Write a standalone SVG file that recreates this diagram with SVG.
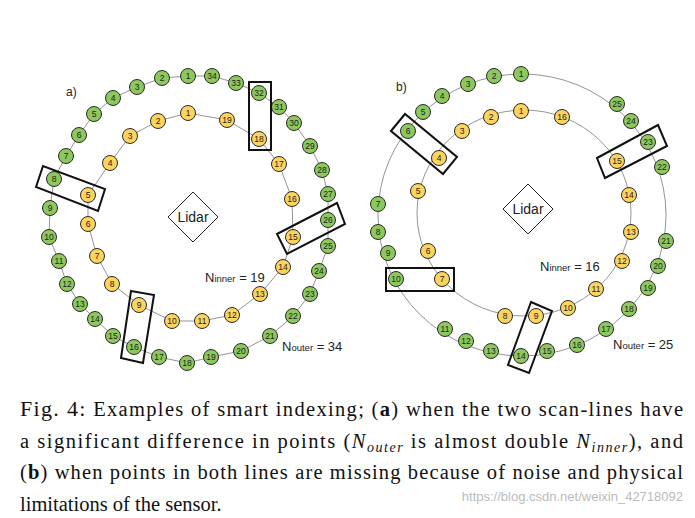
<svg xmlns="http://www.w3.org/2000/svg" width="695" height="518" viewBox="0 0 695 518">
<style>
.g{fill:#8cc85c;stroke:#2a2a2a;stroke-width:1}
.y{fill:#fcd35c;stroke:#2a2a2a;stroke-width:1}
.n{font-family:"Liberation Sans",Arial,sans-serif;font-size:8.5px;text-anchor:middle;dominant-baseline:central;fill:#222}
.ln{fill:none;stroke:#888;stroke-width:0.9}
.bx{fill:none;stroke:#111;stroke-width:2}
.lb{font-family:"Liberation Sans",Arial,sans-serif;fill:#222}
.cap{font-family:"Liberation Serif","Times New Roman",serif;font-size:20.5px;fill:#111}
</style>
<rect width="695" height="518" fill="#fff"/>
<g id="connectors">
<polygon class="ln" points="188,76 162,78 137,87 113,98 94,114 79,135 66,156 54,179 50,208 49,237 59,261 67,284 80,304 95,319 113,336 134,347 159,357 187,363 211,357 241,351 270,336 293,316 310,294 319,271 328,246 328,220 328,194 322,170 310,146 294,123 279,107 259,93 236,83 212,76"/>
<polygon class="ln" points="188,113 158,121 130,136 110,163 88,195 88,224 97,256 112,284 139,305 172,321 202,321 232,315 260,294 283,267 293,237 292,199 279,164 259,139 227,120"/>
<ellipse class="ln" cx="522" cy="215" rx="144" ry="141"/>
<ellipse class="ln" cx="524" cy="213" rx="107" ry="103"/>
</g>
<g id="lidar-a"><polygon points="193,192 218,217 193,242 168,217" fill="#fff" stroke="#222"/><text class="lb" x="193" y="222" font-size="14" text-anchor="middle">Lidar</text></g>
<g id="lidar-b"><polygon points="528,184 553,209 528,234 503,209" fill="#fff" stroke="#222"/><text class="lb" x="528" y="214" font-size="14" text-anchor="middle">Lidar</text></g>
<g id="outer-a">
<circle class="g" cx="188" cy="76" r="7.5"/><text class="n" x="188" y="76">1</text>
<circle class="g" cx="162" cy="78" r="7.5"/><text class="n" x="162" y="78">2</text>
<circle class="g" cx="137" cy="87" r="7.5"/><text class="n" x="137" y="87">3</text>
<circle class="g" cx="113" cy="98" r="7.5"/><text class="n" x="113" y="98">4</text>
<circle class="g" cx="94" cy="114" r="7.5"/><text class="n" x="94" y="114">5</text>
<circle class="g" cx="79" cy="135" r="7.5"/><text class="n" x="79" y="135">6</text>
<circle class="g" cx="66" cy="156" r="7.5"/><text class="n" x="66" y="156">7</text>
<circle class="g" cx="54" cy="179" r="7.5"/><text class="n" x="54" y="179">8</text>
<circle class="g" cx="50" cy="208" r="7.5"/><text class="n" x="50" y="208">9</text>
<circle class="g" cx="49" cy="237" r="7.5"/><text class="n" x="49" y="237">10</text>
<circle class="g" cx="59" cy="261" r="7.5"/><text class="n" x="59" y="261">11</text>
<circle class="g" cx="67" cy="284" r="7.5"/><text class="n" x="67" y="284">12</text>
<circle class="g" cx="80" cy="304" r="7.5"/><text class="n" x="80" y="304">13</text>
<circle class="g" cx="95" cy="319" r="7.5"/><text class="n" x="95" y="319">14</text>
<circle class="g" cx="113" cy="336" r="7.5"/><text class="n" x="113" y="336">15</text>
<circle class="g" cx="134" cy="347" r="7.5"/><text class="n" x="134" y="347">16</text>
<circle class="g" cx="159" cy="357" r="7.5"/><text class="n" x="159" y="357">17</text>
<circle class="g" cx="187" cy="363" r="7.5"/><text class="n" x="187" y="363">18</text>
<circle class="g" cx="211" cy="357" r="7.5"/><text class="n" x="211" y="357">19</text>
<circle class="g" cx="241" cy="351" r="7.5"/><text class="n" x="241" y="351">20</text>
<circle class="g" cx="270" cy="336" r="7.5"/><text class="n" x="270" y="336">21</text>
<circle class="g" cx="293" cy="316" r="7.5"/><text class="n" x="293" y="316">22</text>
<circle class="g" cx="310" cy="294" r="7.5"/><text class="n" x="310" y="294">23</text>
<circle class="g" cx="319" cy="271" r="7.5"/><text class="n" x="319" y="271">24</text>
<circle class="g" cx="328" cy="246" r="7.5"/><text class="n" x="328" y="246">25</text>
<circle class="g" cx="328" cy="220" r="7.5"/><text class="n" x="328" y="220">26</text>
<circle class="g" cx="328" cy="194" r="7.5"/><text class="n" x="328" y="194">27</text>
<circle class="g" cx="322" cy="170" r="7.5"/><text class="n" x="322" y="170">28</text>
<circle class="g" cx="310" cy="146" r="7.5"/><text class="n" x="310" y="146">29</text>
<circle class="g" cx="294" cy="123" r="7.5"/><text class="n" x="294" y="123">30</text>
<circle class="g" cx="279" cy="107" r="7.5"/><text class="n" x="279" y="107">31</text>
<circle class="g" cx="259" cy="93" r="7.5"/><text class="n" x="259" y="93">32</text>
<circle class="g" cx="236" cy="83" r="7.5"/><text class="n" x="236" y="83">33</text>
<circle class="g" cx="212" cy="76" r="7.5"/><text class="n" x="212" y="76">34</text>
</g>
<g id="inner-a">
<circle class="y" cx="188" cy="113" r="7.5"/><text class="n" x="188" y="113">1</text>
<circle class="y" cx="158" cy="121" r="7.5"/><text class="n" x="158" y="121">2</text>
<circle class="y" cx="130" cy="136" r="7.5"/><text class="n" x="130" y="136">3</text>
<circle class="y" cx="110" cy="163" r="7.5"/><text class="n" x="110" y="163">4</text>
<circle class="y" cx="88" cy="195" r="7.5"/><text class="n" x="88" y="195">5</text>
<circle class="y" cx="88" cy="224" r="7.5"/><text class="n" x="88" y="224">6</text>
<circle class="y" cx="97" cy="256" r="7.5"/><text class="n" x="97" y="256">7</text>
<circle class="y" cx="112" cy="284" r="7.5"/><text class="n" x="112" y="284">8</text>
<circle class="y" cx="139" cy="305" r="7.5"/><text class="n" x="139" y="305">9</text>
<circle class="y" cx="172" cy="321" r="7.5"/><text class="n" x="172" y="321">10</text>
<circle class="y" cx="202" cy="321" r="7.5"/><text class="n" x="202" y="321">11</text>
<circle class="y" cx="232" cy="315" r="7.5"/><text class="n" x="232" y="315">12</text>
<circle class="y" cx="260" cy="294" r="7.5"/><text class="n" x="260" y="294">13</text>
<circle class="y" cx="283" cy="267" r="7.5"/><text class="n" x="283" y="267">14</text>
<circle class="y" cx="293" cy="237" r="7.5"/><text class="n" x="293" y="237">15</text>
<circle class="y" cx="292" cy="199" r="7.5"/><text class="n" x="292" y="199">16</text>
<circle class="y" cx="279" cy="164" r="7.5"/><text class="n" x="279" y="164">17</text>
<circle class="y" cx="259" cy="139" r="7.5"/><text class="n" x="259" y="139">18</text>
<circle class="y" cx="227" cy="120" r="7.5"/><text class="n" x="227" y="120">19</text>
</g>
<g id="outer-b">
<circle class="g" cx="521" cy="74" r="7.5"/><text class="n" x="521" y="74">1</text>
<circle class="g" cx="494" cy="76" r="7.5"/><text class="n" x="494" y="76">2</text>
<circle class="g" cx="468" cy="84" r="7.5"/><text class="n" x="468" y="84">3</text>
<circle class="g" cx="442" cy="96" r="7.5"/><text class="n" x="442" y="96">4</text>
<circle class="g" cx="423" cy="112" r="7.5"/><text class="n" x="423" y="112">5</text>
<circle class="g" cx="408" cy="131" r="7.5"/><text class="n" x="408" y="131">6</text>
<circle class="g" cx="378" cy="204" r="7.5"/><text class="n" x="378" y="204">7</text>
<circle class="g" cx="378" cy="232" r="7.5"/><text class="n" x="378" y="232">8</text>
<circle class="g" cx="388" cy="253" r="7.5"/><text class="n" x="388" y="253">9</text>
<circle class="g" cx="396" cy="279" r="7.5"/><text class="n" x="396" y="279">10</text>
<circle class="g" cx="445" cy="329" r="7.5"/><text class="n" x="445" y="329">11</text>
<circle class="g" cx="466" cy="341" r="7.5"/><text class="n" x="466" y="341">12</text>
<circle class="g" cx="491" cy="351" r="7.5"/><text class="n" x="491" y="351">13</text>
<circle class="g" cx="521" cy="356" r="7.5"/><text class="n" x="521" y="356">14</text>
<circle class="g" cx="547" cy="351" r="7.5"/><text class="n" x="547" y="351">15</text>
<circle class="g" cx="577" cy="345" r="7.5"/><text class="n" x="577" y="345">16</text>
<circle class="g" cx="606" cy="329" r="7.5"/><text class="n" x="606" y="329">17</text>
<circle class="g" cx="629" cy="309" r="7.5"/><text class="n" x="629" y="309">18</text>
<circle class="g" cx="648" cy="288" r="7.5"/><text class="n" x="648" y="288">19</text>
<circle class="g" cx="658" cy="266" r="7.5"/><text class="n" x="658" y="266">20</text>
<circle class="g" cx="666" cy="241" r="7.5"/><text class="n" x="666" y="241">21</text>
<circle class="g" cx="662" cy="167" r="7.5"/><text class="n" x="662" y="167">22</text>
<circle class="g" cx="648" cy="142" r="7.5"/><text class="n" x="648" y="142">23</text>
<circle class="g" cx="631" cy="121" r="7.5"/><text class="n" x="631" y="121">24</text>
<circle class="g" cx="617" cy="104" r="7.5"/><text class="n" x="617" y="104">25</text>
</g>
<g id="inner-b">
<circle class="y" cx="521" cy="111" r="7.5"/><text class="n" x="521" y="111">1</text>
<circle class="y" cx="491" cy="117" r="7.5"/><text class="n" x="491" y="117">2</text>
<circle class="y" cx="462" cy="131" r="7.5"/><text class="n" x="462" y="131">3</text>
<circle class="y" cx="439" cy="158" r="7.5"/><text class="n" x="439" y="158">4</text>
<circle class="y" cx="418" cy="191" r="7.5"/><text class="n" x="418" y="191">5</text>
<circle class="y" cx="428" cy="251" r="7.5"/><text class="n" x="428" y="251">6</text>
<circle class="y" cx="442" cy="279" r="7.5"/><text class="n" x="442" y="279">7</text>
<circle class="y" cx="505" cy="316" r="7.5"/><text class="n" x="505" y="316">8</text>
<circle class="y" cx="536" cy="316" r="7.5"/><text class="n" x="536" y="316">9</text>
<circle class="y" cx="568" cy="308" r="7.5"/><text class="n" x="568" y="308">10</text>
<circle class="y" cx="596" cy="289" r="7.5"/><text class="n" x="596" y="289">11</text>
<circle class="y" cx="622" cy="261" r="7.5"/><text class="n" x="622" y="261">12</text>
<circle class="y" cx="631" cy="232" r="7.5"/><text class="n" x="631" y="232">13</text>
<circle class="y" cx="629" cy="195" r="7.5"/><text class="n" x="629" y="195">14</text>
<circle class="y" cx="617" cy="161" r="7.5"/><text class="n" x="617" y="161">15</text>
<circle class="y" cx="562" cy="117" r="7.5"/><text class="n" x="562" y="117">16</text>
</g>
<g id="boxes">
<rect class="bx" x="249" y="82" width="22" height="68"/>
<polygon class="bx" points="36,187 43,166 105,189 98,211"/>
<polygon class="bx" points="277,234 337,203 345,224 287,254"/>
<polygon class="bx" points="131,291 154,295 143,363 121,358"/>
<polygon class="bx" points="391,131 405,114 457,157 443,174"/>
<rect class="bx" x="386" y="268" width="68" height="23"/>
<polygon class="bx" points="597,158 658,125 667,146 605,178"/>
<polygon class="bx" points="531,302 552,311 529,373 508,365"/>
</g>
<g id="labels" class="lb" font-size="13">
<text x="66" y="96" font-size="12">a)</text>
<text x="396" y="91" font-size="12">b)</text>
<text x="205" y="282">N<tspan font-size="9.5">inner</tspan> = 19</text>
<text x="282" y="351">N<tspan font-size="9.5">outer</tspan> = 34</text>
<text x="540" y="271">N<tspan font-size="9.5">inner</tspan> = 16</text>
<text x="613" y="349">N<tspan font-size="9.5">outer</tspan> = 25</text>
</g>
<g id="caption" class="cap">
<text x="20" y="416" textLength="663" lengthAdjust="spacing"><tspan font-size="22">Fig. 4:</tspan>   Examples of smart indexing; (<tspan font-weight="bold">a</tspan>) when the two scan-lines have</text>
<text x="20" y="448" textLength="663" lengthAdjust="spacing">a significant difference in points (<tspan font-style="italic">N</tspan><tspan font-style="italic" font-size="14" dy="4">outer</tspan><tspan dy="-4"> is almost double </tspan><tspan font-style="italic">N</tspan><tspan font-style="italic" font-size="14" dy="4">inner</tspan><tspan dy="-4">), and</tspan></text>
<text x="20" y="479" textLength="663" lengthAdjust="spacing">(<tspan font-weight="bold">b</tspan>) when points in both lines are missing because of noise and physical</text>
<text x="20" y="511">limitations of the sensor.</text>
</g>
<text x="683" y="501" text-anchor="end" font-family="'Liberation Sans',Arial,sans-serif" font-size="13" fill="#bbb">https://blog.csdn.net/weixin_42718092</text>
</svg>
